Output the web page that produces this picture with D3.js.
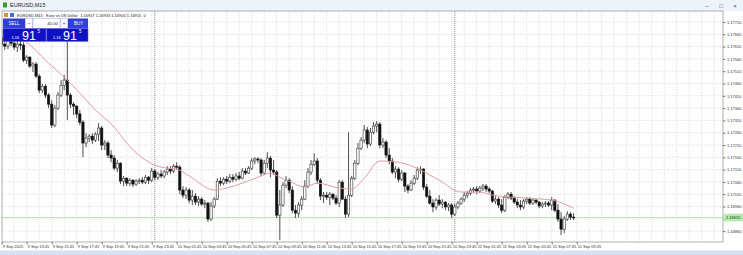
<!DOCTYPE html>
<html>
<head>
<meta charset="utf-8">
<script src="https://cdn.jsdelivr.net/npm/d3@7"></script>
<style>
body { margin: 0; background: #fff; }
svg { display: block; font-family: "Liberation Sans", Arial, sans-serif; }
.axis text { fill: #333; }
.axis line { stroke: #777; }
.axis path { display: none; }
</style>
</head>
<body>
<script>
// EURUSD M15, 9 Sep 11:45 -> 11 Sep 09:30, one entry per bar
var opens = [
	1.17645, 1.17620, 1.17612, 1.17636, 1.17624, 1.17608, 1.17620, 1.17616, 1.17555, 1.17567,
	1.17531, 1.17539, 1.17490, 1.17433, 1.17449, 1.17413, 1.17376, 1.17291, 1.17360, 1.17413,
	1.17453, 1.17474, 1.17413, 1.17376, 1.17368, 1.17336, 1.17303, 1.17218, 1.17238, 1.17246,
	1.17230, 1.17254, 1.17279, 1.17210, 1.17218, 1.17169, 1.17157, 1.17116, 1.17136, 1.17063,
	1.17075, 1.17055, 1.17067, 1.17051, 1.17063, 1.17067, 1.17059, 1.17079, 1.17067, 1.17104,
	1.17079, 1.17092, 1.17084, 1.17100, 1.17112, 1.17104, 1.17124, 1.17120, 1.17027, 1.17006,
	1.17027, 1.16986, 1.17002, 1.16978, 1.16990, 1.16970, 1.16974, 1.16909, 1.16962, 1.16990,
	1.17063, 1.17055, 1.17071, 1.17063, 1.17079, 1.17071, 1.17084, 1.17075, 1.17104, 1.17096,
	1.17116, 1.17145, 1.17153, 1.17149, 1.17096, 1.17136, 1.17157, 1.17108, 1.17100, 1.16925,
	1.16966, 1.17047, 1.17067, 1.17027, 1.16945, 1.16933, 1.16966, 1.16990, 1.17043, 1.17100,
	1.17132, 1.17145, 1.17067, 1.17002, 1.17006, 1.16998, 1.17010, 1.16994, 1.16974, 1.17059,
	1.16990, 1.16929, 1.17006, 1.17075, 1.17136, 1.17197, 1.17230, 1.17271, 1.17214, 1.17262,
	1.17287, 1.17295, 1.17210, 1.17222, 1.17169, 1.17145, 1.17100, 1.17112, 1.17071, 1.17096,
	1.17043, 1.17027, 1.17055, 1.17075, 1.17108, 1.17112, 1.17039, 1.17002, 1.16974, 1.16958,
	1.16986, 1.16970, 1.16978, 1.16958, 1.16966, 1.16929, 1.16958, 1.16974, 1.16990, 1.17006,
	1.17014, 1.17027, 1.17031, 1.17023, 1.17035, 1.17043, 1.17031, 1.17023, 1.16982, 1.16990,
	1.16966, 1.16945, 1.16998, 1.17010, 1.16994, 1.16978, 1.16966, 1.16958, 1.16982, 1.16990,
	1.16974, 1.16986, 1.16978, 1.16962, 1.16970, 1.16974, 1.16966, 1.16986, 1.16945, 1.16909,
	1.16868, 1.16909, 1.16929, 1.16917
];
var highs = [
	1.17677, 1.17636, 1.17653, 1.17661, 1.17645, 1.17636, 1.17636, 1.17628, 1.17575, 1.17571,
	1.17547, 1.17547, 1.17498, 1.17458, 1.17458, 1.17421, 1.17392, 1.17372, 1.17425, 1.17474,
	1.17494, 1.17632, 1.17421, 1.17384, 1.17372, 1.17352, 1.17311, 1.17258, 1.17254, 1.17258,
	1.17262, 1.17299, 1.17287, 1.17230, 1.17226, 1.17189, 1.17169, 1.17149, 1.17140, 1.17084,
	1.17079, 1.17075, 1.17071, 1.17071, 1.17075, 1.17079, 1.17088, 1.17084, 1.17116, 1.17112,
	1.17100, 1.17108, 1.17108, 1.17124, 1.17124, 1.17132, 1.17140, 1.17128, 1.17043, 1.17039,
	1.17035, 1.17027, 1.17014, 1.17002, 1.16998, 1.16986, 1.16978, 1.16978, 1.16998, 1.17075,
	1.17079, 1.17079, 1.17084, 1.17092, 1.17092, 1.17096, 1.17100, 1.17116, 1.17116, 1.17124,
	1.17157, 1.17161, 1.17161, 1.17157, 1.17149, 1.17181, 1.17165, 1.17149, 1.17108, 1.17027,
	1.17059, 1.17084, 1.17075, 1.17043, 1.16966, 1.16978, 1.17002, 1.17067, 1.17116, 1.17149,
	1.17177, 1.17157, 1.17075, 1.17019, 1.17019, 1.17019, 1.17014, 1.17006, 1.17067, 1.17067,
	1.17002, 1.17262, 1.17084, 1.17149, 1.17218, 1.17242, 1.17291, 1.17283, 1.17279, 1.17303,
	1.17307, 1.17303, 1.17238, 1.17230, 1.17197, 1.17157, 1.17124, 1.17120, 1.17108, 1.17100,
	1.17051, 1.17067, 1.17088, 1.17120, 1.17124, 1.17116, 1.17051, 1.17027, 1.16990, 1.16994,
	1.17006, 1.16990, 1.16982, 1.16974, 1.16974, 1.16970, 1.16982, 1.16998, 1.17019, 1.17023,
	1.17035, 1.17039, 1.17043, 1.17043, 1.17051, 1.17051, 1.17039, 1.17027, 1.17002, 1.16998,
	1.16990, 1.17006, 1.17019, 1.17019, 1.17002, 1.16990, 1.16986, 1.16990, 1.16998, 1.16998,
	1.16994, 1.16990, 1.16982, 1.16978, 1.16982, 1.16982, 1.16998, 1.16990, 1.16970, 1.16937,
	1.16921, 1.16941, 1.16937, 1.16933
];
var lows = [
	1.17604, 1.17596, 1.17600, 1.17612, 1.17596, 1.17588, 1.17596, 1.17547, 1.17539, 1.17523,
	1.17506, 1.17482, 1.17421, 1.17421, 1.17401, 1.17360, 1.17279, 1.17283, 1.17352, 1.17405,
	1.17433, 1.17311, 1.17360, 1.17332, 1.17319, 1.17291, 1.17161, 1.17201, 1.17222, 1.17214,
	1.17222, 1.17226, 1.17189, 1.17189, 1.17157, 1.17140, 1.17108, 1.17100, 1.17051, 1.17043,
	1.17043, 1.17043, 1.17039, 1.17043, 1.17051, 1.17051, 1.17051, 1.17051, 1.17059, 1.17067,
	1.17067, 1.17075, 1.17075, 1.17088, 1.17092, 1.17096, 1.17108, 1.17010, 1.16994, 1.16990,
	1.16974, 1.16966, 1.16966, 1.16962, 1.16962, 1.16953, 1.16897, 1.16901, 1.16953, 1.16986,
	1.17043, 1.17047, 1.17051, 1.17055, 1.17059, 1.17063, 1.17067, 1.17071, 1.17088, 1.17092,
	1.17108, 1.17132, 1.17136, 1.17084, 1.17088, 1.17116, 1.17079, 1.17088, 1.16913, 1.16823,
	1.16958, 1.17035, 1.17014, 1.16933, 1.16913, 1.16917, 1.16945, 1.16986, 1.17035, 1.17088,
	1.17124, 1.17051, 1.16986, 1.16974, 1.16986, 1.16966, 1.16986, 1.16966, 1.16958, 1.16986,
	1.16913, 1.16917, 1.16998, 1.17067, 1.17128, 1.17189, 1.17218, 1.17197, 1.17206, 1.17254,
	1.17262, 1.17197, 1.17197, 1.17157, 1.17132, 1.17092, 1.17075, 1.17059, 1.17063, 1.17019,
	1.17014, 1.17023, 1.17047, 1.17067, 1.17092, 1.17027, 1.16994, 1.16966, 1.16937, 1.16945,
	1.16962, 1.16953, 1.16945, 1.16941, 1.16913, 1.16921, 1.16949, 1.16966, 1.16978, 1.16994,
	1.17006, 1.17014, 1.17010, 1.17014, 1.17023, 1.17019, 1.17014, 1.16974, 1.16970, 1.16953,
	1.16933, 1.16937, 1.16990, 1.16986, 1.16970, 1.16953, 1.16945, 1.16949, 1.16970, 1.16966,
	1.16966, 1.16970, 1.16953, 1.16953, 1.16958, 1.16958, 1.16945, 1.16937, 1.16897, 1.16844,
	1.16852, 1.16901, 1.16905, 1.16905
];
var closes = [
	1.17620, 1.17612, 1.17636, 1.17624, 1.17608, 1.17620, 1.17616, 1.17555, 1.17567, 1.17531,
	1.17539, 1.17490, 1.17433, 1.17449, 1.17413, 1.17376, 1.17291, 1.17360, 1.17413, 1.17453,
	1.17474, 1.17413, 1.17376, 1.17368, 1.17336, 1.17303, 1.17218, 1.17238, 1.17246, 1.17230,
	1.17254, 1.17279, 1.17210, 1.17218, 1.17169, 1.17157, 1.17116, 1.17136, 1.17063, 1.17075,
	1.17055, 1.17067, 1.17051, 1.17063, 1.17067, 1.17059, 1.17079, 1.17067, 1.17104, 1.17079,
	1.17092, 1.17084, 1.17100, 1.17112, 1.17104, 1.17124, 1.17120, 1.17027, 1.17006, 1.17027,
	1.16986, 1.17002, 1.16978, 1.16990, 1.16970, 1.16974, 1.16909, 1.16962, 1.16990, 1.17063,
	1.17055, 1.17071, 1.17063, 1.17079, 1.17071, 1.17084, 1.17075, 1.17104, 1.17096, 1.17116,
	1.17145, 1.17153, 1.17149, 1.17096, 1.17136, 1.17157, 1.17108, 1.17100, 1.16925, 1.16966,
	1.17047, 1.17067, 1.17027, 1.16945, 1.16933, 1.16966, 1.16990, 1.17043, 1.17100, 1.17132,
	1.17145, 1.17067, 1.17002, 1.17006, 1.16998, 1.17010, 1.16994, 1.16974, 1.17059, 1.16990,
	1.16929, 1.17006, 1.17075, 1.17136, 1.17197, 1.17230, 1.17271, 1.17214, 1.17262, 1.17287,
	1.17295, 1.17210, 1.17222, 1.17169, 1.17145, 1.17100, 1.17112, 1.17071, 1.17096, 1.17043,
	1.17027, 1.17055, 1.17075, 1.17108, 1.17112, 1.17039, 1.17002, 1.16974, 1.16958, 1.16986,
	1.16970, 1.16978, 1.16958, 1.16966, 1.16929, 1.16958, 1.16974, 1.16990, 1.17006, 1.17014,
	1.17027, 1.17031, 1.17023, 1.17035, 1.17043, 1.17031, 1.17023, 1.16982, 1.16990, 1.16966,
	1.16945, 1.16998, 1.17010, 1.16994, 1.16978, 1.16966, 1.16958, 1.16982, 1.16990, 1.16974,
	1.16986, 1.16978, 1.16962, 1.16970, 1.16974, 1.16966, 1.16986, 1.16945, 1.16909, 1.16868,
	1.16909, 1.16929, 1.16917, 1.16915
];

// moving average (bar index, value)
var maBars = [0, 8, 15, 20, 25, 30, 36, 40, 46, 49, 53, 56, 60, 68, 72, 77, 82, 86, 89, 92,
	97, 101, 108, 112, 116, 121, 127, 134, 140, 147, 153, 157, 168, 176, 183];
var maValues = [1.17685, 1.17628, 1.17543, 1.17486, 1.17421, 1.17352, 1.17283, 1.17218, 1.17149, 1.17128,
	1.17116, 1.17112, 1.17084, 1.17027, 1.17035, 1.17055, 1.17079, 1.17096, 1.17079, 1.17063,
	1.17039, 1.17055, 1.17035, 1.17031, 1.17075, 1.17145, 1.17140, 1.17108, 1.17067, 1.17019,
	1.17019, 1.17006, 1.16994, 1.16986, 1.16953];

var priceTicks = ["1.17710", "1.17660", "1.17610", "1.17560", "1.17510", "1.17460", "1.17410", "1.17360", "1.17310",
	"1.17260", "1.17210", "1.17160", "1.17110", "1.17060", "1.17010", "1.16960", "1.16910", "1.16860"];
var timeLabels = ["9 Sep 2025", "9 Sep 13:45", "9 Sep 15:45", "9 Sep 17:45", "9 Sep 19:45", "9 Sep 21:45",
	"9 Sep 23:45", "10 Sep 01:45", "10 Sep 03:45", "10 Sep 05:45", "10 Sep 07:45", "10 Sep 09:45",
	"10 Sep 11:45", "10 Sep 13:45", "10 Sep 15:45", "10 Sep 17:45", "10 Sep 19:45", "10 Sep 21:45",
	"10 Sep 23:45", "11 Sep 01:45", "11 Sep 03:45", "11 Sep 05:45", "11 Sep 07:45", "11 Sep 09:45"];
var daySeparators = [49, 145];
var bidPrice = "1.16915";
var lotSize = "40.00";

var width = 743,
	height = 255;
var plotL = 2, plotR = 723, plotT = 11, plotB = 242;

var svg = d3.select("body").append("svg")
	.attr("width", width)
	.attr("height", height);

var x = d3.scaleLinear().domain([0, 184]).range([1.7, 576.7]);
var y = d3.scaleLinear().domain([1.16860, 1.17710]).range([231.1, 22]);

// window chrome
svg.append("rect").attr("x", 0).attr("y", 0).attr("width", width).attr("height", plotT)
	.attr("fill", "#eef3f9");
svg.append("rect").attr("x", 3).attr("y", 2.5).attr("width", 4).attr("height", 5).attr("fill", "#3c9a3c");
svg.append("text").attr("x", 10).attr("y", 7.3).attr("font-size", 5.5).attr("fill", "#222").text("EURUSD,M15");
svg.selectAll(".winbtn")
	.data(["\u2013", "\u25A1", "\u00D7"]).enter()
	.append("text")
	.attr("class", "winbtn")
	.attr("x", function(d, i){ return 707 + i * 14; })
	.attr("y", 7.5)
	.attr("font-size", 6)
	.attr("fill", "#444")
	.attr("text-anchor", "middle")
	.text(function(d){ return d; });

svg.append("rect").attr("x", 0).attr("y", 250.5).attr("width", width).attr("height", 5).attr("fill", "#d6e2f1");

// chart area
svg.append("rect")
	.attr("x", plotL).attr("y", plotT)
	.attr("width", plotR - plotL).attr("height", plotB - plotT)
	.attr("fill", "#fff");

svg.append("clipPath").attr("id", "clip")
	.append("rect").attr("x", plotL).attr("y", plotT).attr("width", plotR - plotL).attr("height", plotB - plotT);

var plot = svg.append("g").attr("clip-path", "url(#clip)");

// grid
plot.selectAll(".hgrid")
	.data(priceTicks).enter()
	.append("line")
	.attr("x1", plotL).attr("x2", plotR)
	.attr("y1", function(d){ return y(+d); })
	.attr("y2", function(d){ return y(+d); })
	.attr("stroke", "#e2e2e2")
	.attr("stroke-dasharray", "1,1");

plot.selectAll(".vgrid")
	.data(d3.range(0, 232, 4)).enter()
	.append("line")
	.attr("x1", function(d){ return x(d); })
	.attr("x2", function(d){ return x(d); })
	.attr("y1", plotT).attr("y2", plotB)
	.attr("stroke", "#e2e2e2")
	.attr("stroke-dasharray", "1,1");

plot.selectAll(".daysep")
	.data(daySeparators).enter()
	.append("line")
	.attr("x1", function(d){ return x(d); })
	.attr("x2", function(d){ return x(d); })
	.attr("y1", plotT).attr("y2", plotB)
	.attr("stroke", "#8a8a8a")
	.attr("stroke-dasharray", "1,1");

// bid line
plot.append("line")
	.attr("x1", plotL).attr("x2", plotR)
	.attr("y1", y(+bidPrice)).attr("y2", y(+bidPrice))
	.attr("stroke", "#b7e6b5");

// candles
var bars = d3.range(closes.length);

plot.selectAll(".wick")
	.data(bars).enter()
	.append("line")
	.attr("x1", function(i){ return x(i); })
	.attr("x2", function(i){ return x(i); })
	.attr("y1", function(i){ return y(highs[i]); })
	.attr("y2", function(i){ return y(lows[i]); })
	.attr("stroke", "#3a3a3a")
	.attr("stroke-width", 0.9);

plot.selectAll(".body")
	.data(bars).enter()
	.append("rect")
	.attr("x", function(i){ return x(i) - 1.15; })
	.attr("width", 2.3)
	.attr("y", function(i){ return y(Math.max(opens[i], closes[i])); })
	.attr("height", function(i){ return Math.max(0.7, Math.abs(y(opens[i]) - y(closes[i]))); })
	.attr("fill", function(i){ return closes[i] >= opens[i] ? "#fff" : "#111"; })
	.attr("stroke", function(i){ return closes[i] >= opens[i] ? "#333" : "#111"; })
	.attr("stroke-width", 0.6);

// moving average
var ma = maBars.map(function(b, k){ return [b, maValues[k]]; });
plot.append("path")
	.datum(ma)
	.attr("fill", "none")
	.attr("stroke", "#e59aa3")
	.attr("stroke-width", 1)
	.attr("d", d3.line()
		.x(function(d){ return x(d[0]); })
		.y(function(d){ return y(d[1]); })
		.curve(d3.curveMonotoneX));

// frame
svg.append("rect")
	.attr("x", plotL).attr("y", plotT)
	.attr("width", plotR - plotL).attr("height", plotB - plotT)
	.attr("fill", "none")
	.attr("stroke", "#9c9c9c")
	.attr("stroke-width", 0.8);

// axes
var yAxis = d3.axisRight(y)
	.tickValues(priceTicks.map(Number))
	.tickSize(2.5)
	.tickPadding(1.5)
	.tickFormat(function(d, i){ return priceTicks[i]; });
svg.append("g")
	.attr("class", "axis")
	.attr("transform", "translate(" + plotR + ",0)")
	.call(yAxis)
	.selectAll("text").attr("font-size", 4).attr("font-family", "Liberation Sans, Arial, sans-serif");

var xAxis = d3.axisBottom(x)
	.tickValues(d3.range(0, timeLabels.length * 8, 8))
	.tickSize(2.5)
	.tickPadding(1)
	.tickFormat(function(d, i){ return timeLabels[i]; });
var xg = svg.append("g")
	.attr("class", "axis")
	.attr("transform", "translate(0," + plotB + ")")
	.call(xAxis);
xg.selectAll("text")
	.attr("font-size", 4)
	.attr("font-family", "Liberation Sans, Arial, sans-serif")
	.attr("text-anchor", "start")
	.attr("dx", 0.5);

// current price label
svg.append("rect")
	.attr("x", plotR + 0.5).attr("y", y(+bidPrice) - 3.8)
	.attr("width", 19.5).attr("height", 7.6)
	.attr("fill", "#b4ecae");
svg.append("text")
	.attr("x", plotR + 3).attr("y", y(+bidPrice) + 1.5)
	.attr("font-size", 4).attr("fill", "#222")
	.text(bidPrice);

// chart header
svg.append("rect").attr("x", 4).attr("y", 13).attr("width", 4).attr("height", 4).attr("fill", "#e08a3c");
svg.append("rect").attr("x", 10).attr("y", 13).attr("width", 4).attr("height", 4).attr("fill", "#3f6fd0");
var last = closes.length - 1;
var f5 = d3.format(".5f");
svg.append("text")
	.attr("x", 17).attr("y", 16.8)
	.attr("font-size", 4).attr("fill", "#222")
	.attr("xml:space", "preserve")
	.text("EURUSD,M15:  Euro vs US Dollar  " + f5(opens[last]) + " " + f5(highs[last]) + " " + f5(lows[last]) + " " + f5(closes[last]) + "  0");

// one-click trading panel
var panel = svg.append("g");
panel.append("rect").attr("x", 3).attr("y", 18.5).attr("width", 22).attr("height", 10).attr("fill", "#2f3fd8");
panel.append("rect").attr("x", 68).attr("y", 18.5).attr("width", 20).attr("height", 10).attr("fill", "#2f3fd8");
panel.append("rect").attr("x", 25.5).attr("y", 18.5).attr("width", 7).attr("height", 10).attr("fill", "#fff").attr("stroke", "#9aa4d8").attr("stroke-width", 0.5);
panel.append("rect").attr("x", 33).attr("y", 18.5).attr("width", 27).attr("height", 10).attr("fill", "#fff").attr("stroke", "#9aa4d8").attr("stroke-width", 0.5);
panel.append("rect").attr("x", 60.5).attr("y", 18.5).attr("width", 7).attr("height", 10).attr("fill", "#fff").attr("stroke", "#9aa4d8").attr("stroke-width", 0.5);
panel.append("rect").attr("x", 3).attr("y", 28.5).attr("width", 43).attr("height", 13).attr("fill", "#1111c4").attr("stroke", "#6a6ae0").attr("stroke-width", 0.5);
panel.append("rect").attr("x", 46.5).attr("y", 28.5).attr("width", 41.5).attr("height", 13).attr("fill", "#1111c4").attr("stroke", "#6a6ae0").attr("stroke-width", 0.5);

panel.append("text").attr("x", 8.5).attr("y", 25.3).attr("font-size", 4.5).attr("fill", "#fff").text("SELL");
panel.append("text").attr("x", 74).attr("y", 25.3).attr("font-size", 4.5).attr("fill", "#fff").text("BUY");
panel.append("text").attr("x", 29).attr("y", 25.3).attr("font-size", 4.5).attr("fill", "#333").attr("text-anchor", "middle").text("\u2013");
panel.append("text").attr("x", 64).attr("y", 25.3).attr("font-size", 4.5).attr("fill", "#333").attr("text-anchor", "middle").text("+");
panel.append("text").attr("x", 58).attr("y", 25.3).attr("font-size", 4.3).attr("fill", "#222").attr("text-anchor", "end").text(lotSize);

var big = bidPrice.slice(4, 6), small = bidPrice.slice(0, 4), pip = bidPrice.slice(6);
[[11.5, 22, 37.5], [53, 63, 79]].forEach(function(p){
	panel.append("text").attr("x", p[0]).attr("y", 39).attr("font-size", 4).attr("fill", "#fff").text(small);
	panel.append("text").attr("x", p[1]).attr("y", 40).attr("font-size", 12.5).attr("fill", "#fff").text(big);
	panel.append("text").attr("x", p[2]).attr("y", 33).attr("font-size", 4.5).attr("fill", "#fff").text(pip);
});
</script>
</body>
</html>
